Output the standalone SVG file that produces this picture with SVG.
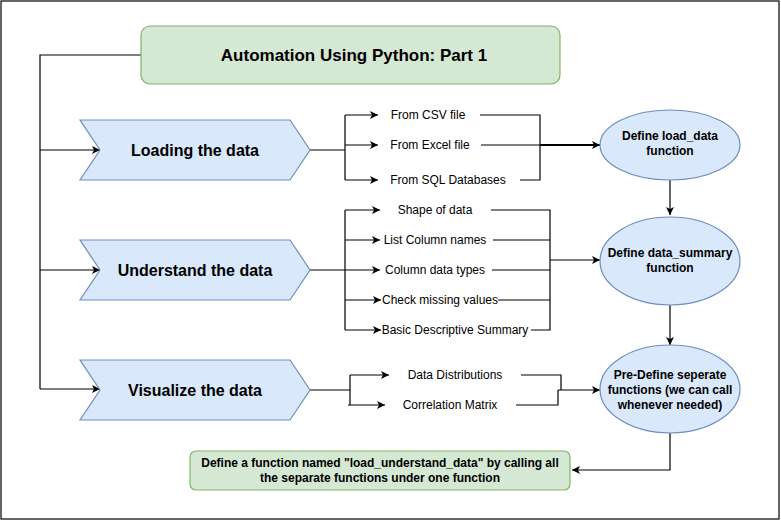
<svg xmlns="http://www.w3.org/2000/svg" width="781" height="521" viewBox="0 0 781 521">
<defs><marker id="a" markerWidth="10" markerHeight="10" refX="9" refY="5" orient="auto" markerUnits="userSpaceOnUse"><path d="M1,1 L9,5 L1,9 L3,5 Z" fill="#000"/></marker></defs>
<style>
text{font-family:"Liberation Sans",Arial,sans-serif;fill:#000;text-anchor:middle}
.g{fill:#d5e8d4;stroke:#82b366;stroke-width:1.2}
.b{fill:#dae8fc;stroke:#6c8ebf;stroke-width:1.2}
.s{font-size:16px;font-weight:bold}
.t{font-size:12px}
.e{font-size:12px;font-weight:bold}
#c path{fill:none;stroke:#000;stroke-width:1.2}
</style>
<rect x="1" y="1" width="778" height="518" fill="#fff" stroke="#000" stroke-width="1.2"/>
<g id="c">
<path d="M141,55 H40 V389"/>
<path d="M40,150 H100" marker-end="url(#a)"/>
<path d="M40,270 H100" marker-end="url(#a)"/>
<path d="M40,389 H100" marker-end="url(#a)"/>
<path d="M310,150 H345 M345,115 V180"/>
<path d="M345,115 H378" marker-end="url(#a)"/>
<path d="M345,145 H378" marker-end="url(#a)"/>
<path d="M345,180 H378" marker-end="url(#a)"/>
<path d="M480,115 H540 V180 H520 M481,145 H540"/>
<path d="M540,145 H600" marker-end="url(#a)" style="stroke-width:1.8"/>
<path d="M670,180 V215" marker-end="url(#a)"/>
<path d="M310,270 H345 M345,210 V330"/>
<path d="M345,210 H380" marker-end="url(#a)"/>
<path d="M345,240 H380" marker-end="url(#a)"/>
<path d="M345,270 H380" marker-end="url(#a)"/>
<path d="M345,300 H381" marker-end="url(#a)"/>
<path d="M345,330 H381" marker-end="url(#a)"/>
<path d="M491,210 H550 V330 H531 M493,240 H550 M492,270 H550 M498,300 H550"/>
<path d="M550,260 H600" marker-end="url(#a)"/>
<path d="M670,305 V345" marker-end="url(#a)"/>
<path d="M310,390 H350 V375 M350,390 V405"/>
<path d="M350,375 H389" marker-end="url(#a)"/>
<path d="M348,405 H385" marker-end="url(#a)"/>
<path d="M521,375 H561 V390 M516,405 H558 V390"/>
<path d="M558,390 H600" marker-end="url(#a)"/>
<path d="M670,433 V470 H572" marker-end="url(#a)"/>
</g>
<g id="title"><rect class="g" x="141" y="26" width="419" height="58" rx="9"/><text class="s" x="354" y="61" style="font-size:17px">Automation Using Python: Part 1</text></g>
<g id="load"><path class="b" d="M80,120 H290 L310,150 L290,180 H80 L100,150 Z"/><text class="s" x="195" y="156">Loading the data</text></g>
<g id="understand"><path class="b" d="M80,240 H290 L310,270 L290,300 H80 L100,270 Z"/><text class="s" x="195" y="276">Understand the data</text></g>
<g id="visualize"><path class="b" d="M80,360 H290 L310,390 L290,420 H80 L100,390 Z"/><text class="s" x="195" y="396">Visualize the data</text></g>
<g id="labels">
<text class="t" x="428" y="119">From CSV file</text>
<text class="t" x="430" y="149">From Excel file</text>
<text class="t" x="448" y="184">From SQL Databases</text>
<text class="t" x="435" y="214">Shape of data</text>
<text class="t" x="435" y="244">List Column names</text>
<text class="t" x="435" y="274">Column data types</text>
<text class="t" x="440" y="304">Check missing values</text>
<text class="t" x="455" y="334">Basic Descriptive Summary</text>
<text class="t" x="455" y="379">Data Distributions</text>
<text class="t" x="450" y="409">Correlation Matrix</text>
</g>
<g id="e1"><ellipse class="b" cx="670" cy="145" rx="70" ry="35"/><text class="e" x="670" y="140">Define load_data</text><text class="e" x="670" y="155">function</text></g>
<g id="e2"><ellipse class="b" cx="670" cy="261" rx="70" ry="44"/><text class="e" x="670" y="257">Define data_summary</text><text class="e" x="670" y="272">function</text></g>
<g id="e3"><ellipse class="b" cx="670" cy="389" rx="70" ry="44"/><text class="e" x="670" y="379">Pre-Define seperate</text><text class="e" x="670" y="394">functions (we can call</text><text class="e" x="670" y="409">whenever needed)</text></g>
<g id="final"><rect class="g" x="190" y="451" width="380" height="39" rx="6"/><text class="e" x="380" y="467">Define a function named "load_understand_data" by calling all</text><text class="e" x="380" y="482">the separate functions under one function</text></g>
</svg>
